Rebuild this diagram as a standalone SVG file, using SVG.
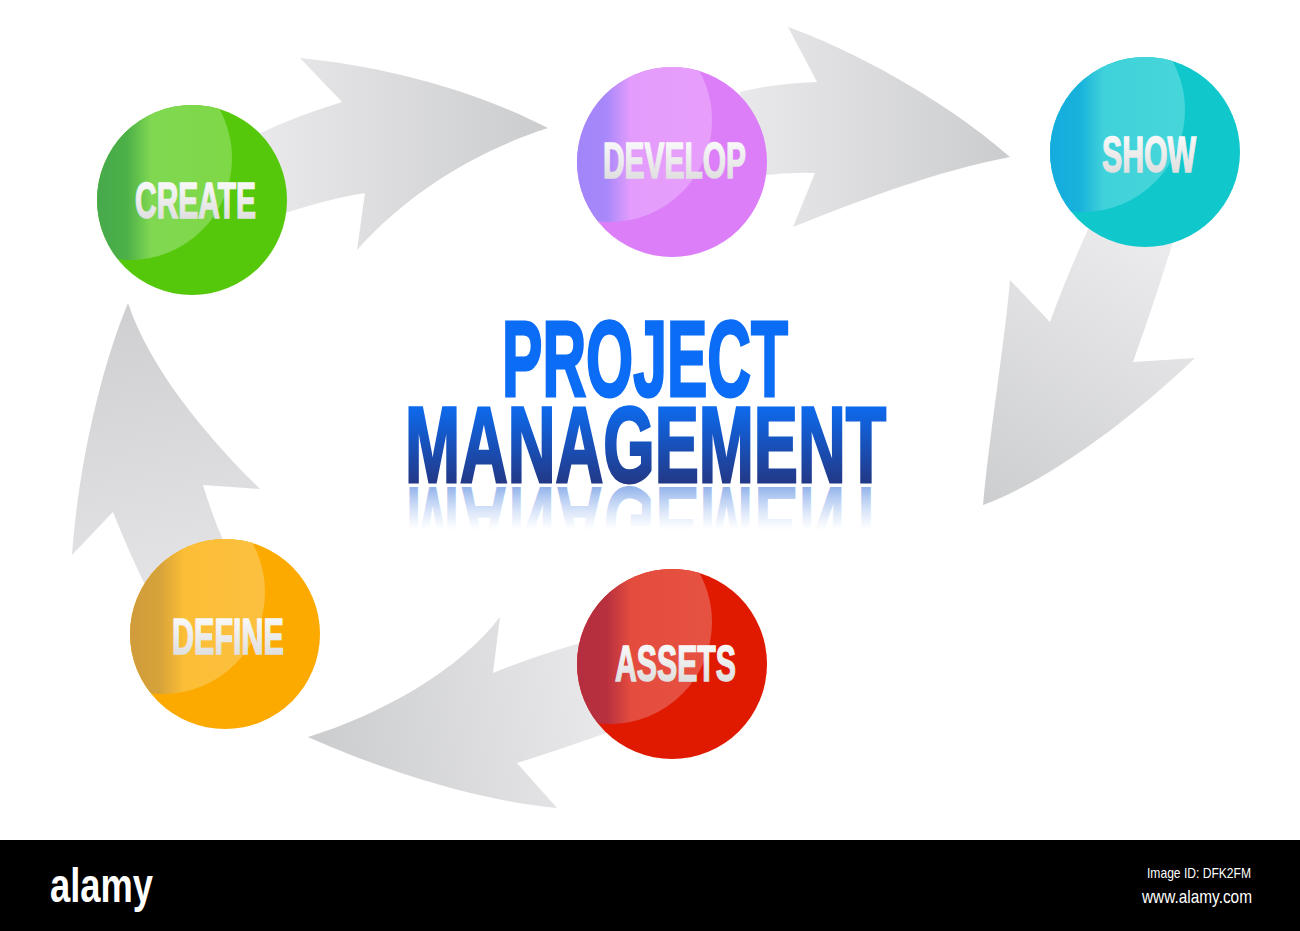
<svg xmlns="http://www.w3.org/2000/svg" xmlns:xlink="http://www.w3.org/1999/xlink" width="1300" height="931" viewBox="0 0 1300 931">
  <style>
    .lbl { font-family: "Liberation Sans Narrow", "Liberation Sans", Arial, sans-serif; font-weight: bold; font-size: 50px; fill: url(#txt); stroke: url(#txt); stroke-width: 1.5; text-anchor: middle; }
    .title { font-family: "Liberation Sans Narrow", "Liberation Sans", Arial, sans-serif; font-weight: bold; font-size: 108px; stroke-width: 3; }
    .wm { font-family: "Liberation Sans Narrow", "Liberation Sans", Arial, sans-serif; fill: #ffffff; }
  </style>
  <defs>
    <clipPath id="disc"><circle cx="0" cy="0" r="95"/></clipPath>
    <circle id="hl" cx="-62" cy="-42" r="102"/>
    <linearGradient id="txt" x1="0" y1="0" x2="0" y2="1">
      <stop offset="0" stop-color="#ffffff"/>
      <stop offset="1" stop-color="#d8d8d8"/>
    </linearGradient>
    <linearGradient id="g-create" gradientUnits="userSpaceOnUse" x1="-95" y1="0" x2="40" y2="0">
      <stop offset="0" stop-color="#47a94c"/><stop offset="0.22" stop-color="#4cb048"/><stop offset="0.4" stop-color="#80d852"/><stop offset="1" stop-color="#7ed846"/>
    </linearGradient>
    <linearGradient id="g-develop" gradientUnits="userSpaceOnUse" x1="-95" y1="0" x2="40" y2="0">
      <stop offset="0" stop-color="#a086fa"/><stop offset="0.22" stop-color="#a888fa"/><stop offset="0.4" stop-color="#e49cfc"/><stop offset="1" stop-color="#e79efb"/>
    </linearGradient>
    <linearGradient id="g-show" gradientUnits="userSpaceOnUse" x1="-95" y1="0" x2="40" y2="0">
      <stop offset="0" stop-color="#14acde"/><stop offset="0.22" stop-color="#18b2dc"/><stop offset="0.4" stop-color="#40d2da"/><stop offset="1" stop-color="#46d6da"/>
    </linearGradient>
    <linearGradient id="g-define" gradientUnits="userSpaceOnUse" x1="-95" y1="0" x2="40" y2="0">
      <stop offset="0" stop-color="#d09c3c"/><stop offset="0.22" stop-color="#d6a23a"/><stop offset="0.4" stop-color="#fcbe36"/><stop offset="1" stop-color="#fcc040"/>
    </linearGradient>
    <linearGradient id="g-assets" gradientUnits="userSpaceOnUse" x1="-95" y1="0" x2="40" y2="0">
      <stop offset="0" stop-color="#b42e40"/><stop offset="0.22" stop-color="#b8303e"/><stop offset="0.4" stop-color="#e44c3e"/><stop offset="1" stop-color="#e65242"/>
    </linearGradient>
    <linearGradient id="a1g" gradientUnits="userSpaceOnUse" x1="260" y1="0" x2="548" y2="0">
      <stop offset="0" stop-color="#e9e9eb"/><stop offset="1" stop-color="#cbcccd"/>
    </linearGradient>
    <linearGradient id="a2g" gradientUnits="userSpaceOnUse" x1="740" y1="0" x2="1010" y2="0">
      <stop offset="0" stop-color="#e9e9eb"/><stop offset="1" stop-color="#cbcccd"/>
    </linearGradient>
    <linearGradient id="a3g" gradientUnits="userSpaceOnUse" x1="1150" y1="240" x2="990" y2="505">
      <stop offset="0" stop-color="#ebebed"/><stop offset="1" stop-color="#cdcecf"/>
    </linearGradient>
    <linearGradient id="a4g" gradientUnits="userSpaceOnUse" x1="610" y1="700" x2="308" y2="737">
      <stop offset="0" stop-color="#e9e9eb"/><stop offset="1" stop-color="#cbcccd"/>
    </linearGradient>
    <linearGradient id="a5g" gradientUnits="userSpaceOnUse" x1="180" y1="590" x2="128" y2="303">
      <stop offset="0" stop-color="#e4e4e6"/><stop offset="1" stop-color="#cfcfd1"/>
    </linearGradient>
    <linearGradient id="mgmt" gradientUnits="userSpaceOnUse" x1="0" y1="400" x2="0" y2="485">
      <stop offset="0" stop-color="#0b6ef6"/><stop offset="1" stop-color="#233784"/>
    </linearGradient>
    <linearGradient id="refl" gradientUnits="userSpaceOnUse" x1="0" y1="483" x2="0" y2="440">
      <stop offset="0" stop-color="#4a80de" stop-opacity="0.6"/><stop offset="1" stop-color="#8fb2ee" stop-opacity="0"/>
    </linearGradient>
  </defs>

  <rect x="0" y="0" width="1300" height="931" fill="#ffffff"/>

  <g id="connectors">
    <path id="arrow-create-develop" fill="url(#a1g)" d="M 250,138 Q 290,118 342,102 L 300,58 C 380,66 470,88 548,128 C 480,150 410,190 357,250 L 365,193 Q 320,200 260,222 Z"/>
    <path id="arrow-develop-show" fill="url(#a2g)" d="M 740,92 Q 770,84 817,82 L 788,27 C 840,45 940,95 1010,157 C 940,170 860,200 793,227 L 815,173 Q 780,172 745,178 Z"/>
    <path id="arrow-show-assets" fill="url(#a3g)" d="M 1180,220 L 1172,245 Q 1155,300 1133,362 L 1195,358 C 1130,420 1050,480 983,505 C 990,430 1005,340 1010,280 L 1050,322 Q 1065,280 1090,225 Z"/>
    <path id="arrow-assets-define" fill="url(#a4g)" d="M 600,638 Q 550,650 493,673 L 500,617 C 460,670 380,715 308,737 C 370,765 470,800 557,808 L 517,763 Q 565,748 620,728 Z"/>
    <path id="arrow-define-create" fill="url(#a5g)" d="M 155,600 L 145,585 Q 128,550 113,512 L 72,555 C 78,470 100,370 128,303 C 150,370 210,440 260,489 L 203,485 Q 212,515 225,545 Z"/>
  </g>

  <g id="create" transform="translate(192,200)">
    <circle r="95" fill="#56c80c"/>
    <use xlink:href="#hl" href="#hl" clip-path="url(#disc)" fill="url(#g-create)"/>
    <text class="lbl" x="3.5" y="18" textLength="121" lengthAdjust="spacingAndGlyphs">CREATE</text>
  </g>
  <g id="develop" transform="translate(672,162)">
    <circle r="95" fill="#dc7ef8"/>
    <use xlink:href="#hl" href="#hl" clip-path="url(#disc)" fill="url(#g-develop)"/>
    <text class="lbl" x="2.5" y="16" textLength="143" lengthAdjust="spacingAndGlyphs">DEVELOP</text>
  </g>
  <g id="show" transform="translate(1145,152)">
    <circle r="95" fill="#10c8cc"/>
    <use xlink:href="#hl" href="#hl" clip-path="url(#disc)" fill="url(#g-show)"/>
    <text class="lbl" x="4" y="20" textLength="94" lengthAdjust="spacingAndGlyphs">SHOW</text>
  </g>
  <g id="define" transform="translate(225,634)">
    <circle r="95" fill="#fcaa00"/>
    <use xlink:href="#hl" href="#hl" clip-path="url(#disc)" fill="url(#g-define)"/>
    <text class="lbl" x="3" y="20" textLength="112" lengthAdjust="spacingAndGlyphs">DEFINE</text>
  </g>
  <g id="assets" transform="translate(672,664)">
    <circle r="95" fill="#e01a00"/>
    <use xlink:href="#hl" href="#hl" clip-path="url(#disc)" fill="url(#g-assets)"/>
    <text class="lbl" x="3.5" y="17" textLength="121" lengthAdjust="spacingAndGlyphs">ASSETS</text>
  </g>

  <g id="title">
    <text class="title" x="645" y="396" text-anchor="middle" textLength="286" lengthAdjust="spacingAndGlyphs" fill="#0b6cf5" stroke="#0b6cf5">PROJECT</text>
    <text class="title" x="645.5" y="482" text-anchor="middle" textLength="481" lengthAdjust="spacingAndGlyphs" fill="url(#mgmt)" stroke="url(#mgmt)">MANAGEMENT</text>
    <text class="title" x="645.5" y="483" text-anchor="middle" textLength="481" lengthAdjust="spacingAndGlyphs" fill="url(#refl)" transform="translate(0,970) scale(1,-1)">MANAGEMENT</text>
  </g>

  <g id="footer">
    <rect x="0" y="840" width="1300" height="91" fill="#000000"/>
    <text class="wm" x="50" y="902" font-size="48" font-weight="bold" textLength="103" lengthAdjust="spacingAndGlyphs">alamy</text>
    <text class="wm" x="1251" y="878" font-size="15" text-anchor="end" textLength="104" lengthAdjust="spacingAndGlyphs">Image ID: DFK2FM</text>
    <text class="wm" x="1252" y="903" font-size="19" text-anchor="end" textLength="110" lengthAdjust="spacingAndGlyphs">www.alamy.com</text>
  </g>
</svg>
